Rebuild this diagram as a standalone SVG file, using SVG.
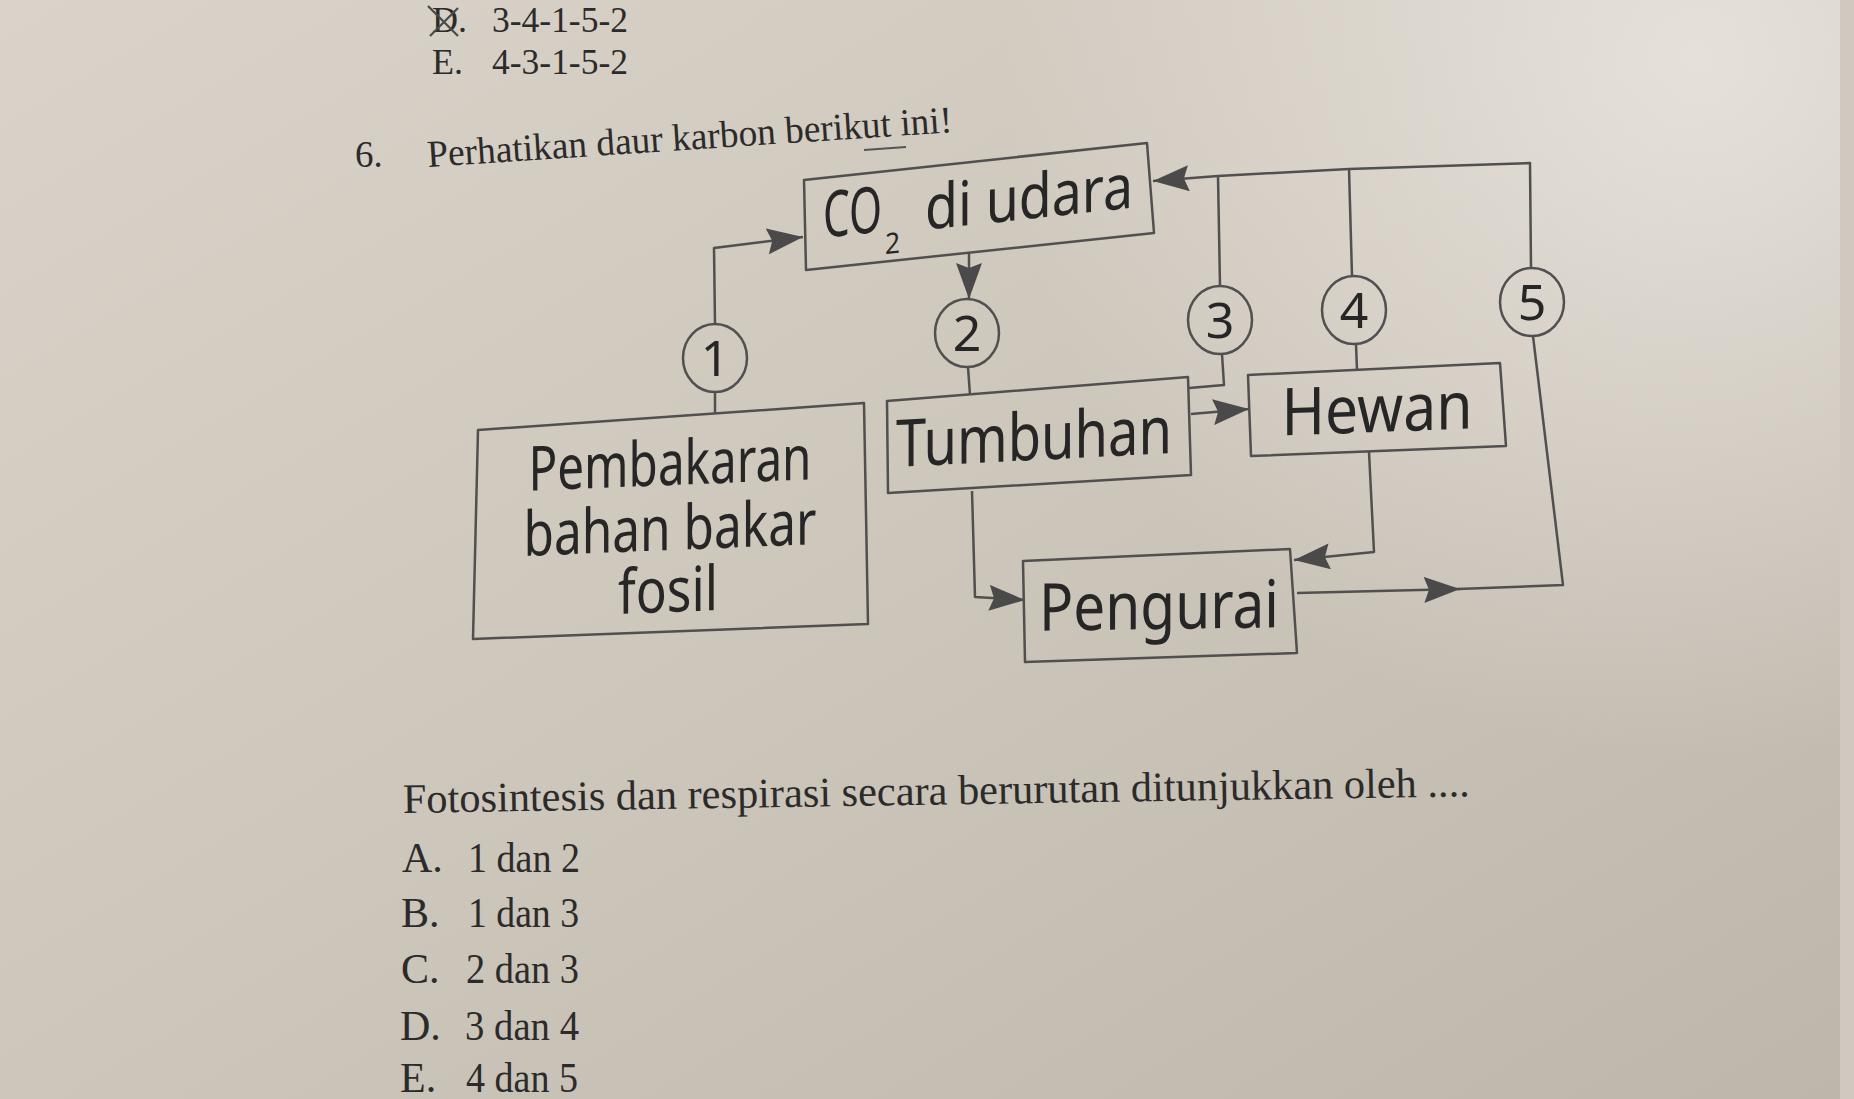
<svg xmlns="http://www.w3.org/2000/svg" width="1854" height="1099" viewBox="0 0 1854 1099">
<defs>
<linearGradient id="bg" x1="0" y1="0" x2="1" y2="1">
<stop offset="0" stop-color="#d9d3c9"/>
<stop offset="0.5" stop-color="#cdc6bb"/>
<stop offset="1" stop-color="#bdb6ab"/>
</linearGradient>
<radialGradient id="glow" cx="1700" cy="60" r="700" gradientUnits="userSpaceOnUse">
<stop offset="0" stop-color="#ebe7e1" stop-opacity="0.8"/>
<stop offset="1" stop-color="#ebe7e1" stop-opacity="0"/>
</radialGradient>
<marker id="ah" viewBox="0 0 36 26" markerWidth="36" markerHeight="26" markerUnits="userSpaceOnUse" refX="36" refY="13" orient="auto">
<path d="M0,0 L36,13 L0,26 L5,13 Z" fill="#4a4a4a"/>
</marker>
<style>
.print{font-family:"Liberation Serif","Times New Roman",serif;fill:#2b2b2b}
.lbl{font-family:"Noto Sans","Open Sans",sans-serif;fill:#262626}
.box{fill:none;stroke:#505050;stroke-width:2.5;stroke-linejoin:round}
.ln{fill:none;stroke:#505050;stroke-width:2.5;stroke-linejoin:round}
.num{font-family:"Noto Sans","Open Sans",sans-serif;fill:#262626;font-size:50px;text-anchor:middle}
</style>
</defs>
<rect width="1854" height="1099" fill="url(#bg)"/>
<rect width="1854" height="1099" fill="url(#glow)"/>
<rect x="1840" y="0" width="14" height="1099" fill="#cfc9bf"/>

<g id="header">
<text class="print" x="432" y="32" font-size="36">D.</text>
<path d="M428,6 L458,36 M458,8 L430,36" stroke="#4a4a4a" stroke-width="2.2" fill="none"/>
<text class="print" x="492" y="32" font-size="36" textLength="136" lengthAdjust="spacingAndGlyphs">3-4-1-5-2</text>
<text class="print" x="432" y="74" font-size="36">E.</text>
<text class="print" x="492" y="74" font-size="36" textLength="136" lengthAdjust="spacingAndGlyphs">4-3-1-5-2</text>
<text class="print" x="355" y="167" font-size="37">6.</text>
<text class="print" x="428" y="167" font-size="38" textLength="526" lengthAdjust="spacingAndGlyphs" transform="rotate(-3.8 428 167)">Perhatikan daur karbon berikut ini!</text>
<path d="M864,150 L906,147" stroke="#555" stroke-width="2" fill="none"/>
</g>

<g id="connectors">
<path class="ln" d="M715,414 L715,392"/>
<path class="ln" d="M715,324 L714,248 L803,237" marker-end="url(#ah)"/>
<path class="ln" d="M969,253 L969,299" marker-end="url(#ah)"/>
<path class="ln" d="M968,367 L970,395"/>
<path class="ln" d="M1189,388 L1224,385 L1222,354"/>
<path class="ln" d="M1220,286 L1218,176"/>
<path class="ln" d="M1218,176 L1153,181" marker-end="url(#ah)"/>
<path class="ln" d="M1218,176 L1349,169 L1530,163 L1531,268"/>
<path class="ln" d="M1349,169 L1352,276"/>
<path class="ln" d="M1356,344 L1357,370"/>
<path class="ln" d="M1297,593 L1460,589" marker-end="url(#ah)"/>
<path class="ln" d="M1458,589 L1563,585 L1533,336"/>
<path class="ln" d="M1191,414 L1249,409" marker-end="url(#ah)"/>
<path class="ln" d="M1369,452 L1374,552 L1294,560" marker-end="url(#ah)"/>
<path class="ln" d="M972,491 L975,597 L1025,600" marker-end="url(#ah)"/>
</g>

<g id="co2">
<polygon class="box" points="804,180 1147,143 1154,233 806,270"/>
<g transform="translate(980 0) skewY(-6.1) translate(-980 0)">
<text class="lbl" x="823" y="221" font-size="64" textLength="59" lengthAdjust="spacingAndGlyphs">CO</text>
<text class="lbl" x="885" y="244" font-size="29" textLength="15" lengthAdjust="spacingAndGlyphs">2</text>
<text class="lbl" x="925" y="224" font-size="62" textLength="208" lengthAdjust="spacingAndGlyphs">di udara</text>
</g>
</g>

<g id="pembakaran">
<polygon class="box" points="478,430 864,403 868,624 473,639"/>
<g transform="translate(670 0) skewY(-2.3) translate(-670 0)" text-anchor="middle">
<text class="lbl" x="670" y="485" font-size="62" textLength="283" lengthAdjust="spacingAndGlyphs">Pembakaran</text>
<text class="lbl" x="670" y="550" font-size="62" textLength="293" lengthAdjust="spacingAndGlyphs">bahan bakar</text>
<text class="lbl" x="668" y="612" font-size="62" textLength="100" lengthAdjust="spacingAndGlyphs">fosil</text>
</g>
</g>

<g id="tumbuhan">
<polygon class="box" points="887,401 1188,377 1191,475 888,493"/>
<text class="lbl" x="1034" y="460" font-size="66" text-anchor="middle" textLength="276" lengthAdjust="spacingAndGlyphs" transform="translate(1034 0) skewY(-2.9) translate(-1034 0)">Tumbuhan</text>
</g>

<g id="hewan">
<polygon class="box" points="1248,375 1500,363 1506,446 1251,456"/>
<text class="lbl" x="1377" y="432" font-size="66" text-anchor="middle" textLength="191" lengthAdjust="spacingAndGlyphs" transform="translate(1377 0) skewY(-2.1) translate(-1377 0)">Hewan</text>
</g>

<g id="pengurai">
<polygon class="box" points="1023,561 1290,549 1297,653 1025,662"/>
<text class="lbl" x="1159" y="629" font-size="66" text-anchor="middle" textLength="240" lengthAdjust="spacingAndGlyphs" transform="translate(1159 0) skewY(-0.8) translate(-1159 0)">Pengurai</text>
</g>

<g id="n1"><ellipse class="box" cx="715" cy="358" rx="32" ry="34"/><text class="num" x="715" y="376">1</text></g>
<g id="n2"><ellipse class="box" cx="967" cy="333" rx="32" ry="34"/><text class="num" x="967" y="351">2</text></g>
<g id="n3"><ellipse class="box" cx="1220" cy="320" rx="32" ry="34"/><text class="num" x="1220" y="338">3</text></g>
<g id="n4"><ellipse class="box" cx="1354" cy="310" rx="32" ry="34"/><text class="num" x="1354" y="328">4</text></g>
<g id="n5"><ellipse class="box" cx="1532" cy="302" rx="32" ry="34"/><text class="num" x="1532" y="320">5</text></g>

<g id="question">
<text class="print" x="403" y="813" font-size="42" textLength="1067" lengthAdjust="spacingAndGlyphs" transform="rotate(-0.9 403 813)">Fotosintesis dan respirasi secara berurutan ditunjukkan oleh ....</text>
<text class="print" x="402" y="872" font-size="42">A.</text>
<text class="print" x="468" y="872" font-size="42" textLength="112" lengthAdjust="spacingAndGlyphs">1 dan 2</text>
<text class="print" x="401" y="927" font-size="42">B.</text>
<text class="print" x="468" y="927" font-size="42" textLength="111" lengthAdjust="spacingAndGlyphs">1 dan 3</text>
<text class="print" x="401" y="983" font-size="42">C.</text>
<text class="print" x="466" y="983" font-size="42" textLength="113" lengthAdjust="spacingAndGlyphs">2 dan 3</text>
<text class="print" x="400" y="1040" font-size="42">D.</text>
<text class="print" x="465" y="1040" font-size="42" textLength="114" lengthAdjust="spacingAndGlyphs">3 dan 4</text>
<text class="print" x="400" y="1092" font-size="42">E.</text>
<text class="print" x="466" y="1092" font-size="42" textLength="112" lengthAdjust="spacingAndGlyphs">4 dan 5</text>
</g>
</svg>
